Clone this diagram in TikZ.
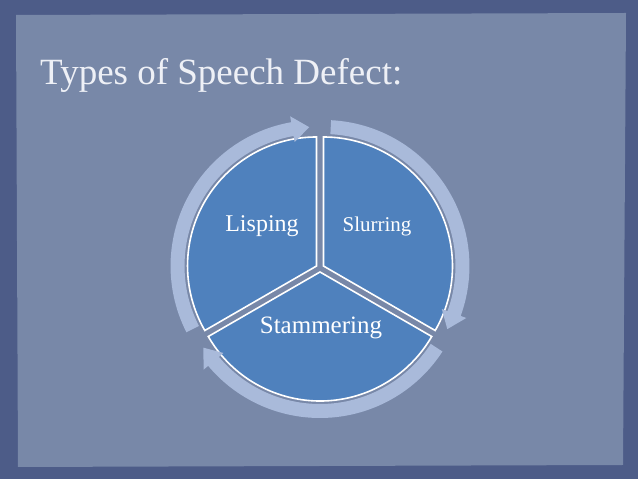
\documentclass[tikz,border=0pt]{standalone}
\usepackage{fontspec}
\setmainfont{Liberation Serif}
\definecolor{outerbg}{HTML}{4D5C88}
\definecolor{panel}{HTML}{7888A8}
\definecolor{pie}{HTML}{4F81BD}
\definecolor{ringc}{HTML}{A9BADA}
\definecolor{titlec}{HTML}{EEF0F6}
\tikzset{
  sector/.style={fill=pie,draw=white,line width=1.6pt,line join=miter},
  ringshape/.style={fill=ringc,draw=none},
  lab/.style={text=white,inner sep=0pt}
}
\newcommand{\ringarc}[3]{% shift angle, start, end (clockwise)
  \pgfmathsetmacro{\bb}{#3+7}
  \fill[ringshape,shift={(#1:4)}] (#2:146) arc[start angle=#2,end angle=\bb,radius=146]
     -- (\bb:152) -- (#3:139) -- (\bb:126) -- (\bb:132)
     arc[start angle=\bb,end angle=#2,radius=132] -- cycle;}
\begin{document}
\begin{tikzpicture}[x=1pt,y=1pt]
\useasboundingbox (0,0) rectangle (638,479);
\fill[outerbg] (0,0) rectangle (638,479);
\fill[panel] (18,12) -- (623,14) -- (626,466) -- (16,464) -- cycle;
\node[anchor=base west,text=titlec,font=\fontsize{37}{42}\selectfont,inner sep=0pt] (title) at (40,394) {Types of Speech Defect:};
\begin{scope}[shift={(320,211)}]
  \coordinate (c) at (0,0);
  \draw[sector,shift={(150:4)}] (0,0) -- (90:129) arc[start angle=90,end angle=210,radius=129] -- cycle;
  \draw[sector,shift={(30:4)}] (0,0) -- (-30:129) arc[start angle=-30,end angle=90,radius=129] -- cycle;
  \draw[sector,shift={(270:4)}] (0,0) -- (210:129) arc[start angle=210,end angle=330,radius=129] -- cycle;
  \ringarc{150}{207}{93}
  \ringarc{30}{87}{-27}
  \ringarc{270}{327}{213}
  \node[lab,font=\fontsize{24}{26}\selectfont] (lisp) at (-58,42) {Lisping};
  \node[lab,font=\fontsize{21}{24}\selectfont] (slur) at (57,42) {Slurring};
  \node[lab,font=\fontsize{25}{28}\selectfont] (stam) at (1,-60) {Stammering};
\end{scope}
\end{tikzpicture}
\end{document}
